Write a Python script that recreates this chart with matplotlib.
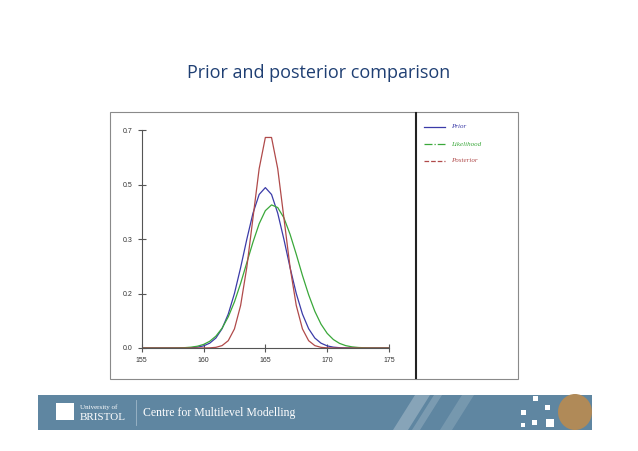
import matplotlib.pyplot as plt
from matplotlib.patches import Rectangle, Polygon, Ellipse

# ── values (x step 0.5 from 155 to 175) ──
x_vals = [155 + 0.5 * i for i in range(41)]

prior = [0, 0, 0, 0, 0, 0, 0.0001, 0.0003, 0.001, 0.0027, 0.0068, 0.0155,
         0.032, 0.062, 0.109, 0.175, 0.258, 0.349, 0.433, 0.493, 0.515,
         0.493, 0.433, 0.349, 0.258, 0.175, 0.109, 0.062, 0.032, 0.0155,
         0.0068, 0.0027, 0.001, 0.0003, 0.0001, 0, 0, 0, 0, 0, 0]

likelihood = [0, 0, 0, 0, 0.0001, 0.0002, 0.0005, 0.0012, 0.0027, 0.0057,
              0.0114, 0.0215, 0.038, 0.0635, 0.100, 0.148, 0.2075, 0.274,
              0.340, 0.399, 0.441, 0.4595, 0.451, 0.418, 0.365, 0.301,
              0.233, 0.171, 0.118, 0.0767, 0.047, 0.0272, 0.0148, 0.0076,
              0.0037, 0.0017, 0.0007, 0.0003, 0.0001, 0, 0]

posterior = [0, 0, 0, 0, 0, 0, 0, 0, 0, 0, 0.0001, 0.0005, 0.0021, 0.0077,
             0.0235, 0.0613, 0.1366, 0.259, 0.418, 0.576, 0.676, 0.676,
             0.576, 0.418, 0.259, 0.1366, 0.0613, 0.0235, 0.0077, 0.0021,
             0.0005, 0.0001, 0, 0, 0, 0, 0, 0, 0, 0, 0]

x_ticks = [155, 160, 165, 170, 175]
y_ticks = [0.0, 0.175, 0.35, 0.525, 0.7]
y_labels = ["0.0", "0.2", "0.3", "0.5", "0.7"]

W, H = 638, 451
fig = plt.figure(figsize=(W / 100, H / 100), dpi=100)

def fx(px): return px / W
def fy(py): return 1 - py / H

fig.text(0.5, fy(73), "Prior and posterior comparison", ha="center", va="center",
         fontsize=13, color="#1f3f73", family="Open Sans")

# ── chart frame ──
fig.patches.append(Rectangle((fx(110), fy(379)), fx(518) - fx(110), fy(112) - fy(379),
                             transform=fig.transFigure, fill=False, ec="#8a8a8a", lw=0.8))
fig.lines.append(plt.Line2D([fx(416), fx(416)], [fy(113), fy(378)],
                            transform=fig.transFigure, color="#222222", lw=1.5))

ax = fig.add_axes([fx(141.7), fy(348), fx(389) - fx(141.7), fy(130) - fy(348)])
ax.plot(x_vals, prior, color="#3b3ba8", lw=0.9)
ax.plot(x_vals, likelihood, color="#3aa83a", lw=0.9)
ax.plot(x_vals, posterior, color="#b04a4a", lw=0.9)
ax.set_xlim(155, 175)
ax.set_ylim(0, 0.7)
ax.set_xticks(x_ticks)
ax.set_yticks(y_ticks)
ax.set_yticklabels(y_labels)
for s in ("top", "right"):
    ax.spines[s].set_visible(False)
for s in ("left", "bottom"):
    ax.spines[s].set_color("#555555")
    ax.spines[s].set_linewidth(0.8)
ax.tick_params(direction="inout", length=6, width=0.8, color="#555555",
               labelsize=5, labelcolor="#333333")
for lab in ax.get_xticklabels() + ax.get_yticklabels():
    lab.set_family("Liberation Sans")
ax.patch.set_alpha(0)

# ── legend ──
legend = [("Prior", "#3b3ba8", "-"), ("Likelihood", "#3aa83a", "-."),
          ("Posterior", "#b04a4a", "--")]
for i, (name, col, ls) in enumerate(legend):
    y = fy(127 + 17 * i)
    fig.lines.append(plt.Line2D([fx(424), fx(445)], [y, y], transform=fig.transFigure,
                                color=col, ls=ls, lw=0.9))
    fig.text(fx(451), y, name, color=col, fontsize=5, style="italic",
             family="Liberation Serif", va="center")

# ── footer banner ──
fig.patches.append(Rectangle((fx(38), fy(430)), fx(592) - fx(38), fy(395) - fy(430),
                             transform=fig.transFigure, color="#5f86a1", lw=0))
for x0, x1, a in [(393, 408, 0.25), (412, 420, 0.18), (440, 452, 0.15)]:
    fig.patches.append(Polygon([(fx(x0), fy(430)), (fx(x1), fy(430)),
                                (fx(x1 + 22), fy(395)), (fx(x0 + 22), fy(395))],
                               closed=True, transform=fig.transFigure,
                               color="white", alpha=a, lw=0))
for sx, sy, s in [(521, 410, 5), (533, 396, 5), (545, 405, 5), (521, 423, 4),
                  (532, 420, 5), (546, 419, 8)]:
    fig.patches.append(Rectangle((fx(sx), fy(sy + s)), s / W, s / H,
                                 transform=fig.transFigure, color="white", lw=0))
fig.patches.append(Ellipse((fx(575), fy(412)), 34 / W, 36 / H, transform=fig.transFigure,
                           color="#b08a58", lw=0))
fig.text(fx(80), fy(407), "University of", color="white", fontsize=5,
         family="Liberation Serif", va="center")
fig.text(fx(80), fy(418), "BRISTOL", color="white", fontsize=8,
         family="Liberation Serif", va="center")
fig.patches.append(Rectangle((fx(56), fy(420)), 18 / W, 17 / H,
                             transform=fig.transFigure, color="white", lw=0))
fig.lines.append(plt.Line2D([fx(136), fx(136)], [fy(400), fy(425)],
                            transform=fig.transFigure, color="#9fb8c9", lw=0.6))
fig.text(fx(143), fy(413), "Centre for Multilevel Modelling", color="white",
         fontsize=8.5, family="Liberation Serif", va="center")

fig.savefig("out.png", dpi=100)
